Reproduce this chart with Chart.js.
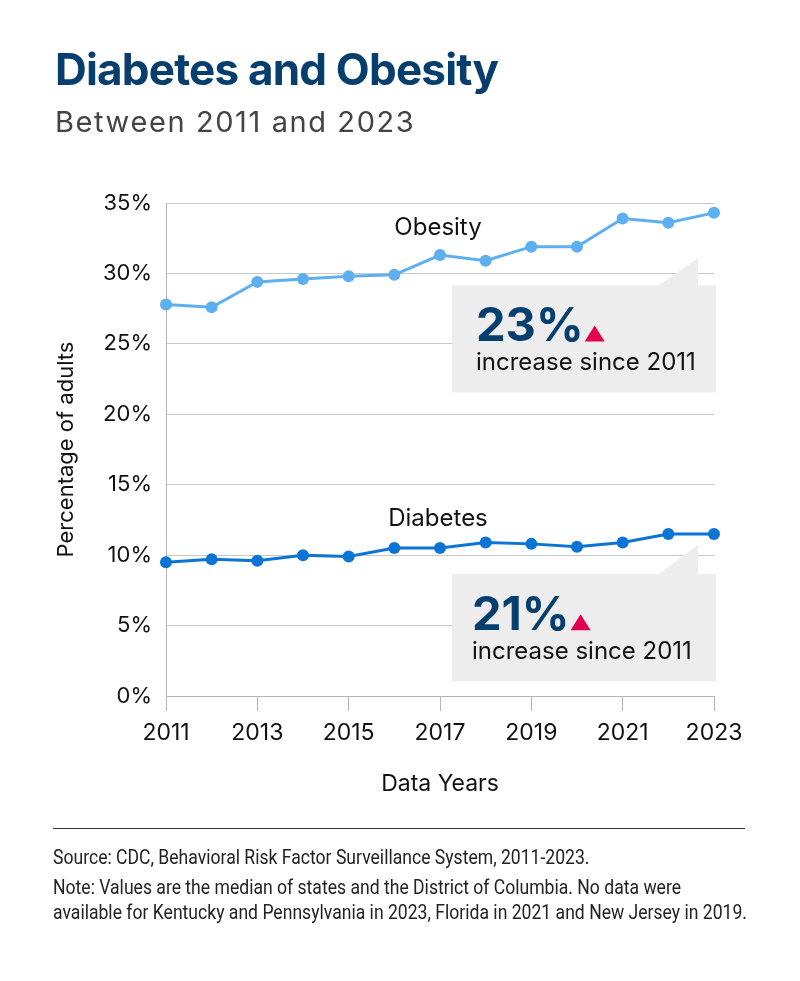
<!DOCTYPE html>
<html lang="en">
<head>
  <meta charset="UTF-8">
  <meta name="viewport" content="width=device-width, initial-scale=1.0">
  <title>Diabetes and Obesity</title>
  <script src="https://cdn.jsdelivr.net/npm/chart.js"></script>
  <style>
    body { margin: 0; background: #fff; font-family: Inter, "Noto Sans", sans-serif; }
    #page { position: relative; width: 800px; height: 981px; overflow: hidden; }
    #chartBox { position: absolute; left: 0; top: 0; width: 800px; height: 981px; }
    h1 { position: absolute; left: 55px; top: 47px; margin: 0; font-size: 44px; line-height: 44px;
         font-weight: 700; color: #063f6e; letter-spacing: -0.8px; white-space: nowrap; }
    h2 { position: absolute; left: 55px; top: 107px; margin: 0; font-size: 29px; line-height: 29px;
         font-weight: 400; color: #444; letter-spacing: 1.6px; white-space: nowrap; }
    #rule { position: absolute; left: 53px; top: 828px; width: 692px; height: 1px; background: #333; }
    .note { position: absolute; left: 53px; margin: 0; font-family: Roboto, sans-serif;
            font-size: 20px; line-height: 25px; color: #222; white-space: nowrap;
            transform-origin: 0 0; }
  </style>
</head>
<body>
  <div id="page">
    <div id="chartBox"><canvas id="healthChart"></canvas></div>
    <h1>Diabetes and Obesity</h1>
    <h2>Between 2011 and 2023</h2>
    <div id="rule"></div>
    <p class="note" style="top:845px">Source: CDC, Behavioral Risk Factor Surveillance System, 2011-2023.</p>
    <p class="note" style="top:875px">Note: Values are the median of states and the District of Columbia. No data were</p>
    <p class="note" style="top:900px">available for Kentucky and Pennsylvania in 2023, Florida in 2021 and New Jersey in 2019.</p>
  </div>

  <script>
    // datos
    const years = ['2011', '2012', '2013', '2014', '2015', '2016', '2017',
                   '2018', '2019', '2020', '2021', '2022', '2023'];
    const obesity = [27.8, 27.6, 29.4, 29.6, 29.8, 29.9, 31.3, 30.9, 31.9, 31.9, 33.9, 33.6, 34.3];
    const diabetes = [9.5, 9.7, 9.6, 10.0, 9.9, 10.5, 10.5, 10.9, 10.8, 10.6, 10.9, 11.5, 11.5];
    const seriesNames = ['Obesity', 'Diabetes'];
    const increases = ['23%', '21%'];
    const increaseText = 'increase since 2011';

    const navy = '#063f6e';
    const fontFamily = 'Inter, "Noto Sans", sans-serif';

    // texto de notas condensado para que ocupe el mismo ancho
    const notes = document.querySelectorAll('.note');
    const squeeze = 694 / notes[2].getBoundingClientRect().width;
    notes.forEach(n => { n.style.transform = 'scaleX(' + squeeze + ')'; });

    // etiquetas de serie y cuadros de aumento
    const calloutPlugin = {
      id: 'callouts',
      beforeDatasetsDraw(chart) {
        const { ctx, chartArea, scales: { y } } = chart;
        const boxes = [
          { top: 29.15, bottom: 21.55, peak: 31.1, label: increases[0] },
          { top: 8.65, bottom: 1.05, peak: 10.75, label: increases[1] }
        ];
        ctx.save();
        boxes.forEach((b, i) => {
          const left = chartArea.left + 286;
          const right = chartArea.right + 2;
          const top = y.getPixelForValue(b.top);
          const bottom = y.getPixelForValue(b.bottom);
          const peakY = y.getPixelForValue(b.peak);
          ctx.fillStyle = '#ededed';
          ctx.fillRect(left, top, right - left, bottom - top);
          ctx.beginPath();
          ctx.moveTo(chartArea.right - 56, top + 0.5);
          ctx.lineTo(chartArea.right - 16, peakY);
          ctx.lineTo(chartArea.right - 16, top + 0.5);
          ctx.closePath();
          ctx.fill();

          const tx = left + 24 - i * 4;
          ctx.textBaseline = 'alphabetic';
          ctx.textAlign = 'left';
          ctx.fillStyle = navy;
          ctx.font = '700 47px ' + fontFamily;
          ctx.fillText(b.label, tx, top + 56);
          const w = ctx.measureText(b.label).width;
          ctx.fillStyle = '#e0004d';
          ctx.beginPath();
          ctx.moveTo(tx + w + 1, top + 56);
          ctx.lineTo(tx + w + 21, top + 56);
          ctx.lineTo(tx + w + 11, top + 40);
          ctx.closePath();
          ctx.fill();
          ctx.fillStyle = '#111';
          ctx.font = '400 24px ' + fontFamily;
          ctx.fillText(increaseText, tx, top + 85);
        });
        ctx.restore();
      },
      afterDatasetsDraw(chart) {
        const { ctx, scales: { x, y } } = chart;
        ctx.save();
        ctx.fillStyle = '#111';
        ctx.font = '400 24px ' + fontFamily;
        ctx.textAlign = 'center';
        ctx.textBaseline = 'alphabetic';
        ctx.fillText(seriesNames[0], x.getPixelForValue(6) - 2, y.getPixelForValue(32.7));
        ctx.fillText(seriesNames[1], x.getPixelForValue(6) - 2, y.getPixelForValue(12.1));
        ctx.restore();
      }
    };

    const ctx = document.getElementById('healthChart').getContext('2d');
    const healthChart = new Chart(ctx, {
      type: 'line',
      data: {
        labels: years,
        datasets: [{
          label: seriesNames[0],
          data: obesity,
          borderColor: '#5eaff0',
          backgroundColor: '#5eaff0',
          borderWidth: 3,
          pointRadius: 6,
          pointBorderWidth: 0,
          fill: false
        }, {
          label: seriesNames[1],
          data: diabetes,
          borderColor: '#0b74d4',
          backgroundColor: '#0b74d4',
          borderWidth: 3,
          pointRadius: 6,
          pointBorderWidth: 0,
          fill: false
        }]
      },
      options: {
        responsive: true,
        maintainAspectRatio: false,
        animation: false,
        layout: { padding: { left: 45, right: 86, top: 203, bottom: 183 } },
        plugins: { legend: { display: false }, tooltip: { enabled: false } },
        scales: {
          x: {
            offset: false,
            afterFit(scale) { scale.height = 102; },
            grid: {
              drawOnChartArea: false,
              tickLength: 15,
              color: c => (c.index % 2 === 0 ? '#b5b5b5' : 'rgba(0,0,0,0)')
            },
            border: { color: '#b5b5b5' },
            ticks: {
              autoSkip: false,
              maxRotation: 0,
              padding: 8,
              color: '#111',
              font: { family: fontFamily, size: 23 },
              callback: (v, i) => (i % 2 === 0 ? years[i] : '')
            },
            title: {
              display: true,
              text: 'Data Years',
              color: '#111',
              font: { family: fontFamily, size: 23 },
              padding: { top: 0, bottom: 0 }
            }
          },
          y: {
            min: 0,
            max: 35,
            afterFit(scale) { scale.width = 121; },
            grid: { color: '#c8c8c8', drawTicks: false },
            border: { color: '#b5b5b5' },
            ticks: {
              stepSize: 5,
              padding: 14,
              color: '#111',
              font: { family: fontFamily, size: 22 },
              callback: v => v + '%'
            },
            title: {
              display: true,
              text: 'Percentage of adults',
              color: '#111',
              font: { family: fontFamily, size: 22 },
              padding: { top: 8, bottom: 0 }
            }
          }
        }
      },
      plugins: [calloutPlugin]
    });
  </script>
</body>
</html>
